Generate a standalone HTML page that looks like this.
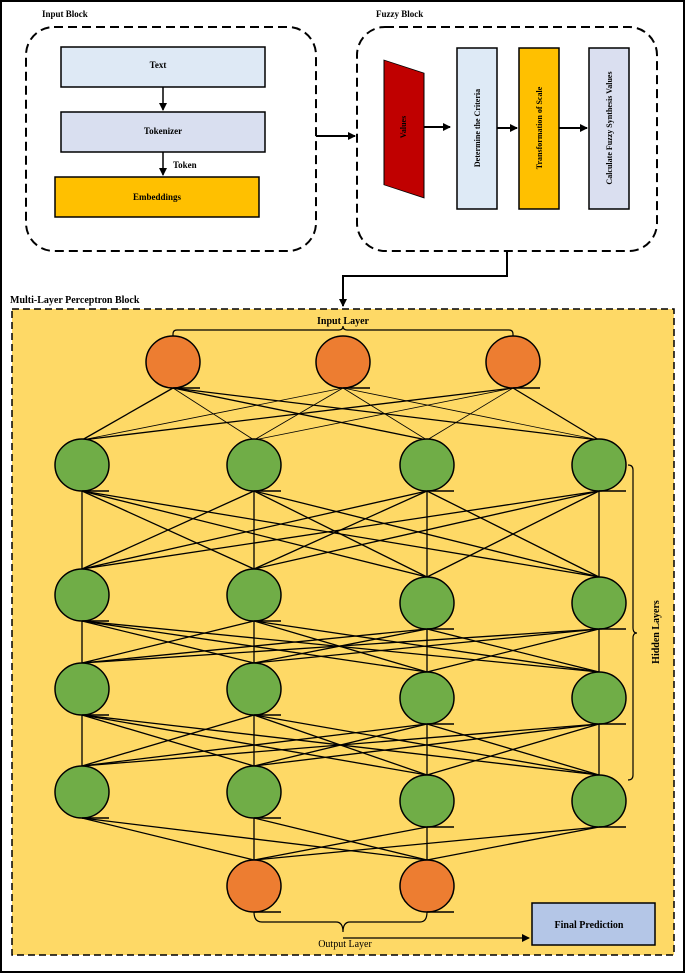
<!DOCTYPE html>
<html><head><meta charset="utf-8"><style>
html,body{margin:0;padding:0;background:#fff}
svg{display:block}
text{font-family:"Liberation Serif",serif;font-weight:bold;fill:#000}
</style></head><body>
<svg width="685" height="974" viewBox="0 0 685 974" xmlns="http://www.w3.org/2000/svg">
<defs><marker id="ah" markerWidth="8" markerHeight="8" refX="7" refY="4" orient="auto" markerUnits="userSpaceOnUse"><path d="M0,0 L8,4 L0,8 z" fill="#000"/></marker></defs>
<rect x="1" y="1" width="683" height="971" fill="#fff" stroke="#000" stroke-width="2"/>
<!-- Input block -->
<text x="42" y="17" font-size="9">Input Block</text>
<rect x="26" y="27" width="290" height="224" rx="28" fill="none" stroke="#000" stroke-width="2" stroke-dasharray="9,5"/>
<rect x="61" y="47" width="204" height="40" fill="#dee9f5" stroke="#000" stroke-width="1.5"/>
<text x="158" y="68" font-size="9" text-anchor="middle">Text</text>
<line x1="163" y1="87" x2="163" y2="110" stroke="#000" stroke-width="1.5" marker-end="url(#ah)"/>
<rect x="61" y="112" width="204" height="40" fill="#d9dff0" stroke="#000" stroke-width="1.5"/>
<text x="163" y="134" font-size="9" text-anchor="middle">Tokenizer</text>
<line x1="163" y1="152" x2="163" y2="175" stroke="#000" stroke-width="1.5" marker-end="url(#ah)"/>
<text x="173" y="168" font-size="9">Token</text>
<rect x="55" y="177" width="204" height="40" fill="#ffc000" stroke="#000" stroke-width="1.5"/>
<text x="157" y="200" font-size="9" text-anchor="middle">Embeddings</text>
<line x1="316" y1="136" x2="355" y2="136" stroke="#000" stroke-width="2" marker-end="url(#ah)"/>
<!-- Fuzzy block -->
<text x="376" y="17" font-size="9">Fuzzy Block</text>
<rect x="357" y="27" width="300" height="224" rx="28" fill="none" stroke="#000" stroke-width="2" stroke-dasharray="9,5"/>
<polygon points="384,78 424,95 424,257 384,240" fill="#c00000" stroke="#000" stroke-width="1" transform="translate(0,-0) scale(1,0.77)"/>
<text transform="translate(406,127) rotate(-90)" font-size="8" text-anchor="middle" fill="#000">Values</text>
<line x1="424" y1="127" x2="450" y2="127" stroke="#000" stroke-width="2" marker-end="url(#ah)"/>
<rect x="457" y="48" width="40" height="161" fill="#deeaf6" stroke="#000" stroke-width="1.5"/>
<text transform="translate(480,128) rotate(-90)" font-size="8" text-anchor="middle">Determine the Criteria</text>
<line x1="497" y1="128" x2="517" y2="128" stroke="#000" stroke-width="2" marker-end="url(#ah)"/>
<rect x="519" y="48" width="40" height="161" fill="#ffc000" stroke="#000" stroke-width="1.5"/>
<text transform="translate(542,128) rotate(-90)" font-size="8" text-anchor="middle">Transformation of Scale</text>
<line x1="559" y1="128" x2="587" y2="128" stroke="#000" stroke-width="2" marker-end="url(#ah)"/>
<rect x="589" y="48" width="40" height="161" fill="#dadff0" stroke="#000" stroke-width="1.5"/>
<text transform="translate(612,128) rotate(-90)" font-size="8" text-anchor="middle">Calculate Fuzzy Synthesis Values</text>
<polyline points="507,251 507,276 343,276 343,306" fill="none" stroke="#000" stroke-width="2" marker-end="url(#ah)"/>
<!-- MLP -->
<text x="10" y="303" font-size="10">Multi-Layer Perceptron Block</text>
<rect x="12" y="309" width="662" height="646" fill="#fed966" stroke="#000" stroke-width="1.5" stroke-dasharray="7,4"/>
<text x="343" y="324" font-size="10" text-anchor="middle">Input Layer</text>
<path d="M173,338 L173,334 Q173,330 177,330 L339,330 Q343,330 343,326 Q343,330 347,330 L509,330 Q513,330 513,334 L513,338" fill="none" stroke="#000" stroke-width="1.2"/>
<g id="lines" stroke="#000" stroke-width="1.3">
<!-- input to row1 -->
<line x1="173" y1="388" x2="82" y2="440"/><line x1="173" y1="388" x2="254" y2="440" stroke-width="0.8"/><line x1="173" y1="388" x2="427" y2="440"/><line x1="173" y1="388" x2="599" y2="440"/>
<line x1="343" y1="388" x2="82" y2="440" stroke-width="0.8"/><line x1="343" y1="388" x2="254" y2="440" stroke-width="0.8"/><line x1="343" y1="388" x2="427" y2="440" stroke-width="0.8"/><line x1="343" y1="388" x2="599" y2="440" stroke-width="0.8"/>
<line x1="513" y1="388" x2="82" y2="440"/><line x1="513" y1="388" x2="254" y2="440" stroke-width="0.8"/><line x1="513" y1="388" x2="427" y2="440" stroke-width="0.8"/><line x1="513" y1="388" x2="599" y2="440"/>
</g>
<g stroke="#000" stroke-width="1.3" id="hid"></g>
<g id="nodes"></g>
<!-- hidden brace -->
<path d="M628,465 Q633,465 633,470 L633,628 Q633,633 637,633 Q633,633 633,638 L633,775 Q633,780 628,780" fill="none" stroke="#000" stroke-width="1.2"/>
<text transform="translate(659,632) rotate(-90)" font-size="10" text-anchor="middle">Hidden Layers</text>
<!-- output brace -->
<path d="M254,912 Q254,922 262,922 L336,922 Q343,922 343,932 Q343,922 350,922 L420,922 Q427,922 427,912" fill="none" stroke="#000" stroke-width="1.2"/>
<line x1="343" y1="938" x2="529" y2="938" stroke="#000" stroke-width="1.3" marker-end="url(#ah)"/>
<text x="345" y="947" font-size="10" text-anchor="middle" style="font-weight:normal">Output Layer</text>
<rect x="532" y="903" width="123" height="42" fill="#b4c6e7" stroke="#000" stroke-width="1.5"/>
<text x="589" y="928" font-size="10" text-anchor="middle">Final Prediction</text>
</svg>
<script>
(function(){
var NS="http://www.w3.org/2000/svg";
var xs=[82,254,427,599];
var rows=[[465,465,465,465],[595,595,603,603],[689,689,698,698],[792,792,801,801]];
var ry=26,rx=27;
var hid=document.getElementById('hid'),nodes=document.getElementById('nodes');
function ln(x1,y1,x2,y2){var l=document.createElementNS(NS,'line');l.setAttribute('x1',x1);l.setAttribute('y1',y1);l.setAttribute('x2',x2);l.setAttribute('y2',y2);hid.appendChild(l);}
for(var r=0;r<3;r++)for(var i=0;i<4;i++)for(var j=0;j<4;j++)ln(xs[i],rows[r][i]+ry,xs[j],rows[r+1][j]-ry);
var ox=[254,427];
for(var i=0;i<4;i++)for(var j=0;j<2;j++)ln(xs[i],rows[3][i]+ry,ox[j],886-ry);
function node(cx,cy,fill){var e=document.createElementNS(NS,'ellipse');e.setAttribute('cx',cx);e.setAttribute('cy',cy);e.setAttribute('rx',rx);e.setAttribute('ry',ry);e.setAttribute('fill',fill);e.setAttribute('stroke','#000');e.setAttribute('stroke-width','1.5');nodes.appendChild(e);
var l=document.createElementNS(NS,'line');l.setAttribute('x1',cx);l.setAttribute('y1',cy+ry);l.setAttribute('x2',cx+27);l.setAttribute('y2',cy+ry);l.setAttribute('stroke','#000');l.setAttribute('stroke-width','1.5');nodes.appendChild(l);}
[173,343,513].forEach(function(x){node(x,362,'#ed7d31');});
for(var r=0;r<4;r++)for(var i=0;i<4;i++)node(xs[i],rows[r][i],'#70ad47');
ox.forEach(function(x){node(x,886,'#ed7d31');});
})();
</script>
</body></html>
